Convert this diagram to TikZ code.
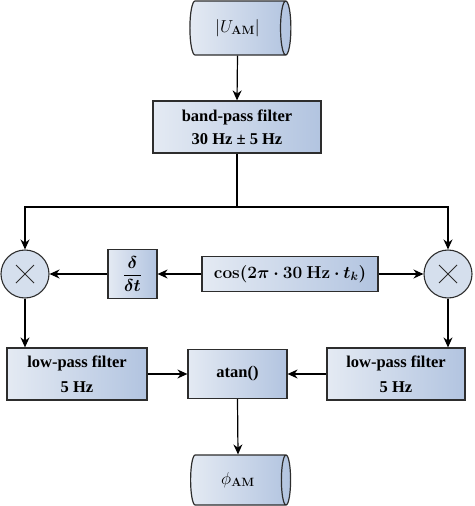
\documentclass[tikz,border=0pt]{standalone}
\usepackage[no-math]{fontspec}
\usepackage{amsmath}
\usepackage{bm}
\setmainfont{Liberation Serif}
\usetikzlibrary{shapes.geometric,arrows.meta,calc}
\definecolor{fillL}{RGB}{228,234,243}
\definecolor{fillR}{RGB}{178,196,224}
\definecolor{edge}{RGB}{45,45,45}
\tikzset{
  blk/.style={draw=edge, line width=1.2pt, left color=fillL, right color=fillR, align=center, inner sep=0pt,
     font=\fontsize{16.5}{25}\selectfont\bfseries},
  cyl/.style={cylinder, draw=edge, line width=1.2pt, left color=fillL, right color=fillR, aspect=0.6,
     inner sep=0pt, font=\fontsize{16.5}{25}\selectfont},
  mul/.style={circle, draw=edge, line width=1.1pt, fill=fillL!70!fillR, minimum size=48pt, inner sep=0pt,
     path picture={\draw[line width=0.9pt] ($(path picture bounding box.center)+(-9pt,-9pt)$) -- ++(18pt,18pt);
                   \draw[line width=0.9pt] ($(path picture bounding box.center)+(-9pt,9pt)$) -- ++(18pt,-18pt);}},
  arr/.style={line width=1.2pt, -{Stealth[length=10pt,width=9pt]}},
  ln/.style={line width=1.2pt},
}
\begin{document}
\begin{tikzpicture}[x=1pt,y=-1pt]
\useasboundingbox (0,0) rectangle (474,506);
\node[cyl, minimum height=101pt, minimum width=54pt] (topc) at (237.5,28) {$|U_{\mathbf{AM}}|$};
\node[blk, minimum width=168pt, minimum height=52pt] (bp) at (237,127) {\raisebox{-2pt}{band-pass filter}\\30 Hz ± 5 Hz};
\coordinate (split) at (237,207);
\node[mul] (mulL) at (25,274) {};
\node[mul] (mulR) at (448,274) {};
\node[blk, minimum width=49pt, minimum height=49pt] (ddt) at (132.5,274) {$\dfrac{\bm{\delta}}{\bm{\delta t}}$};
\node[blk, minimum width=176pt, minimum height=35pt, font=\fontsize{16.5}{20}\selectfont] (cos) at (290,274) {$\bm{\cos(2\pi\cdot 30\ \mathrm{Hz}\cdot t_k)}$};
\node[blk, minimum width=140pt, minimum height=52pt] (lpL) at (77,374) {low-pass filter\\5 Hz};
\node[blk, minimum width=99pt, minimum height=49pt] (atan) at (237.5,374) {atan()};
\node[blk, minimum width=138pt, minimum height=52pt] (lpR) at (396,374) {low-pass filter\\5 Hz};
\node[cyl, minimum height=100pt, minimum width=50pt] (botc) at (238,480) {$\phi_{\mathbf{AM}}$};

\draw[arr] (topc.south) -- (bp.north);
\draw[ln] (bp.south) -- (split);
\draw[arr] (split) -| (mulL.north);
\draw[arr] (split) -| (mulR.north);
\draw[arr] (cos.west) -- (ddt.east);
\draw[arr] (ddt.west) -- (mulL.east);
\draw[arr] (cos.east) -- (mulR.west);
\draw[arr] (mulL.south) -- (mulL.south |- lpL.north);
\draw[arr] (mulR.south) -- (mulR.south |- lpR.north);
\draw[arr] (lpL.east) -- (atan.west);
\draw[arr] (lpR.west) -- (atan.east);
\draw[arr] (atan.south) -- (botc.north);
\end{tikzpicture}
\end{document}
